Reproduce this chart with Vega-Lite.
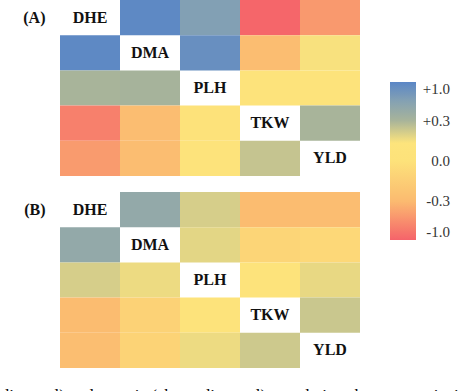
{
  "$schema": "https://vega.github.io/schema/vega-lite/v6.json",
  "padding": {"left": 0, "top": 0, "right": 0, "bottom": 0},
  "autosize": {"type": "pad"},
  "background": "white",
  "datasets": {
    "cells": [
      {"panel": "A", "row": "DHE", "col": "DMA", "r": 0.95},
      {"panel": "A", "row": "DHE", "col": "PLH", "r": 0.6},
      {"panel": "A", "row": "DHE", "col": "TKW", "r": -0.97},
      {"panel": "A", "row": "DHE", "col": "YLD", "r": -0.5},
      {"panel": "A", "row": "DMA", "col": "DHE", "r": 0.95},
      {"panel": "A", "row": "DMA", "col": "PLH", "r": 0.84},
      {"panel": "A", "row": "DMA", "col": "TKW", "r": -0.27},
      {"panel": "A", "row": "DMA", "col": "YLD", "r": 0.11},
      {"panel": "A", "row": "PLH", "col": "DHE", "r": 0.3},
      {"panel": "A", "row": "PLH", "col": "DMA", "r": 0.31},
      {"panel": "A", "row": "PLH", "col": "TKW", "r": 0.06},
      {"panel": "A", "row": "PLH", "col": "YLD", "r": 0.06},
      {"panel": "A", "row": "TKW", "col": "DHE", "r": -0.7},
      {"panel": "A", "row": "TKW", "col": "DMA", "r": -0.27},
      {"panel": "A", "row": "TKW", "col": "PLH", "r": 0.02},
      {"panel": "A", "row": "TKW", "col": "YLD", "r": 0.3},
      {"panel": "A", "row": "YLD", "col": "DHE", "r": -0.48},
      {"panel": "A", "row": "YLD", "col": "DMA", "r": -0.27},
      {"panel": "A", "row": "YLD", "col": "PLH", "r": 0.04},
      {"panel": "A", "row": "YLD", "col": "TKW", "r": 0.22},
      {"panel": "B", "row": "DHE", "col": "DMA", "r": 0.45},
      {"panel": "B", "row": "DHE", "col": "PLH", "r": 0.18},
      {"panel": "B", "row": "DHE", "col": "TKW", "r": -0.28},
      {"panel": "B", "row": "DHE", "col": "YLD", "r": -0.27},
      {"panel": "B", "row": "DMA", "col": "DHE", "r": 0.45},
      {"panel": "B", "row": "DMA", "col": "PLH", "r": 0.15},
      {"panel": "B", "row": "DMA", "col": "TKW", "r": -0.07},
      {"panel": "B", "row": "DMA", "col": "YLD", "r": -0.05},
      {"panel": "B", "row": "PLH", "col": "DHE", "r": 0.18},
      {"panel": "B", "row": "PLH", "col": "DMA", "r": 0.13},
      {"panel": "B", "row": "PLH", "col": "TKW", "r": 0.03},
      {"panel": "B", "row": "PLH", "col": "YLD", "r": 0.14},
      {"panel": "B", "row": "TKW", "col": "DHE", "r": -0.28},
      {"panel": "B", "row": "TKW", "col": "DMA", "r": -0.09},
      {"panel": "B", "row": "TKW", "col": "PLH", "r": 0.04},
      {"panel": "B", "row": "TKW", "col": "YLD", "r": 0.21},
      {"panel": "B", "row": "YLD", "col": "DHE", "r": -0.26},
      {"panel": "B", "row": "YLD", "col": "DMA", "r": -0.08},
      {"panel": "B", "row": "YLD", "col": "PLH", "r": 0.13},
      {"panel": "B", "row": "YLD", "col": "TKW", "r": 0.2}
    ],
    "labels": [
      {"panel": "A", "row": "DHE", "col": "DHE", "name": "DHE"},
      {"panel": "A", "row": "DMA", "col": "DMA", "name": "DMA"},
      {"panel": "A", "row": "PLH", "col": "PLH", "name": "PLH"},
      {"panel": "A", "row": "TKW", "col": "TKW", "name": "TKW"},
      {"panel": "A", "row": "YLD", "col": "YLD", "name": "YLD"},
      {"panel": "B", "row": "DHE", "col": "DHE", "name": "DHE"},
      {"panel": "B", "row": "DMA", "col": "DMA", "name": "DMA"},
      {"panel": "B", "row": "PLH", "col": "PLH", "name": "PLH"},
      {"panel": "B", "row": "TKW", "col": "TKW", "name": "TKW"},
      {"panel": "B", "row": "YLD", "col": "YLD", "name": "YLD"}
    ]
  },
  "title": {
    "text": "diagonal) and genetic (above diagonal) correlations between traits in wheat",
    "orient": "bottom",
    "anchor": "start",
    "font": "Liberation Serif",
    "fontSize": 17,
    "fontWeight": "normal",
    "color": "#000000",
    "offset": 20,
    "dx": -22,
    "baseline": "top"
  },
  "spacing": 16,
  "resolve": {"scale": {"color": "shared"}},
  "vconcat": [
    {
      "width": 300,
      "height": 176,
      "encoding": {
        "x": {"field": "col", "type": "nominal", "axis": null, "scale": {"domain": ["DHE", "DMA", "PLH", "TKW", "YLD"], "paddingInner": 0, "paddingOuter": 0}},
        "y": {"field": "row", "type": "nominal", "scale": {"domain": ["DHE", "DMA", "PLH", "TKW", "YLD"], "paddingInner": 0, "paddingOuter": 0},
              "axis": {"title": null, "ticks": false, "domain": false, "labelExpr": "datum.value == 'DHE' ? '(A)' : ''", "labelFont": "Liberation Serif", "labelFontWeight": "bold", "labelFontSize": 16, "labelColor": "#111111", "labelPadding": 15}}
      },
      "layer": [
        {
          "data": {"name": "cells"},
          "transform": [{"filter": "datum.panel == 'A'"}],
          "mark": {"type": "rect"},
          "encoding": {
            "color": {"field": "r", "type": "quantitative",
              "scale": {"type": "symlog", "constant": 0.2, "domain": [-1, -0.3, 0, 0.1, 0.3, 0.6, 1], "range": ["#f5636a", "#fbba70", "#fde27a", "#fde47c", "#a8b49a", "#82a0b4", "#5a86c6"], "interpolate": "rgb"},
              "legend": {"orient": "none", "legendX": 330, "legendY": 82, "title": null, "values": [1, 0.3, 0, -0.3, -1], "gradientLength": 158, "gradientThickness": 26, "gradientStrokeWidth": 0, "labelFont": "Liberation Serif", "labelFontSize": 15, "labelColor": "#333333", "labelOffset": 34, "labelOverlap": false,
                "labelExpr": "datum.value > 0 ? '+' + format(datum.value, '.1f') : datum.value < 0 ? '-' + format(-datum.value, '.1f') : '0.0'",
                "encode": {"labels": {"update": {"align": {"value": "right"}}}}}}
          }
        },
        {
          "data": {"name": "labels"},
          "transform": [{"filter": "datum.panel == 'A'"}],
          "mark": {"type": "text", "font": "Liberation Serif", "fontWeight": "bold", "fontSize": 16, "color": "#111111"},
          "encoding": {"text": {"field": "name", "type": "nominal"}}
        }
      ]
    },
    {
      "width": 300,
      "height": 176,
      "encoding": {
        "x": {"field": "col", "type": "nominal", "axis": null, "scale": {"domain": ["DHE", "DMA", "PLH", "TKW", "YLD"], "paddingInner": 0, "paddingOuter": 0}},
        "y": {"field": "row", "type": "nominal", "scale": {"domain": ["DHE", "DMA", "PLH", "TKW", "YLD"], "paddingInner": 0, "paddingOuter": 0},
              "axis": {"title": null, "ticks": false, "domain": false, "labelExpr": "datum.value == 'DHE' ? '(B)' : ''", "labelFont": "Liberation Serif", "labelFontWeight": "bold", "labelFontSize": 16, "labelColor": "#111111", "labelPadding": 15}}
      },
      "layer": [
        {
          "data": {"name": "cells"},
          "transform": [{"filter": "datum.panel == 'B'"}],
          "mark": {"type": "rect"},
          "encoding": {
            "color": {"field": "r", "type": "quantitative",
              "scale": {"type": "symlog", "constant": 0.2, "domain": [-1, -0.3, 0, 0.1, 0.3, 0.6, 1], "range": ["#f5636a", "#fbba70", "#fde27a", "#fde47c", "#a8b49a", "#82a0b4", "#5a86c6"], "interpolate": "rgb"},
              "legend": {"orient": "none", "legendX": 330, "legendY": 82, "title": null, "values": [1, 0.3, 0, -0.3, -1], "gradientLength": 158, "gradientThickness": 26, "gradientStrokeWidth": 0, "labelFont": "Liberation Serif", "labelFontSize": 15, "labelColor": "#333333", "labelOffset": 34, "labelOverlap": false,
                "labelExpr": "datum.value > 0 ? '+' + format(datum.value, '.1f') : datum.value < 0 ? '-' + format(-datum.value, '.1f') : '0.0'",
                "encode": {"labels": {"update": {"align": {"value": "right"}}}}}}
          }
        },
        {
          "data": {"name": "labels"},
          "transform": [{"filter": "datum.panel == 'B'"}],
          "mark": {"type": "text", "font": "Liberation Serif", "fontWeight": "bold", "fontSize": 16, "color": "#111111"},
          "encoding": {"text": {"field": "name", "type": "nominal"}}
        }
      ]
    }
  ],
  "config": {
    "view": {"stroke": null}
  }
}
